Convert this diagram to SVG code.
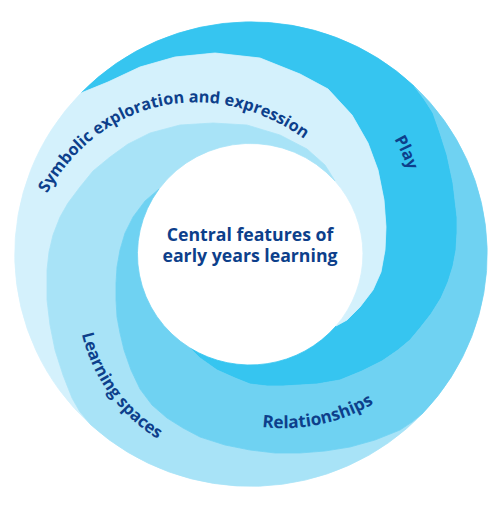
<svg xmlns="http://www.w3.org/2000/svg" width="500" height="511" viewBox="0 0 500 511">
<style>
.arm{stroke-width:0.8;stroke-linejoin:round}
.play{fill:#36c5f0;stroke:#36c5f0}
.sym{fill:#d4f1fc;stroke:#d4f1fc}
.learn{fill:#a8e3f7;stroke:#a8e3f7}
.rel{fill:#6fd2f2;stroke:#6fd2f2}
.lbl{font-family:"Open Sans","Noto Sans","Liberation Sans",sans-serif;font-weight:700;fill:#0d3f8b}
.arc{font-size:16.3px}
.big{font-size:17.2px}
.ctr{font-size:17.7px}
</style>
<defs>
<path id="tp-sym" d="M48,192 C103,97 213,75 303,138"/>
<path id="tp-play" d="M381.5,119.9 A170,170 0 0 1 413.8,192.4"/>
<path id="tp-learn" d="M81,330 A170,170 0 0 0 161,441"/>
<path id="tp-rel" d="M252.6,425.5 A177.7,177.7 0 0 0 381.8,398.5"/>
</defs>
<rect width="500" height="511" fill="#ffffff"/>
<g id="node-play">
<path class="arm play" d="M81,93 A236,232 0 0 1 414,86 L424,99 433,113 440,133 447,155 453,183 455,200 457,217 457,233 456,250 453,266 448,282 441,298 431,314 420,328 410,340 398,350 382,361 362,371 340,380 317,384 300,385 283,386 267,386 250,384 235,378 217,370 200,358 190,348 A113,111 0 0 0 336,326 L347,320 360,307 373,290 381,272 385,250 386,227 384,200 378,170 368,143 352,115 328,89 300,74 260,58 215,53 175,57 140,67 108,82 Z"/>
<text class="lbl arc"><textPath href="#tp-play" startOffset="50%" text-anchor="middle">Play</textPath></text>
</g>
<g id="node-symbolic">
<path class="arm sym" d="M91,425 A236,232 0 0 1 81,93 L108,82 140,67 175,57 215,53 260,58 300,74 328,89 352,115 368,143 378,170 384,200 386,227 385,250 381,272 373,290 360,307 347,320 336,326 A113,111 0 0 0 335,181 L325,165 307,149 280,135 247,125 213,123 180,125 150,133 128,144 110,157 93,171 80,187 68,203 60,217 53,235 49,252 47,270 47,300 50,325 55,350 63,375 72,398 80,412 Z"/>
<text class="lbl arc"><textPath href="#tp-sym" startOffset="50%" text-anchor="middle">Symbolic exploration and expression</textPath></text>
</g>
<g id="node-learning">
<path class="arm learn" d="M423,413 A236,232 0 0 1 91,425 L80,412 72,398 63,375 55,350 50,325 47,300 47,270 49,252 53,235 60,217 68,203 80,187 93,171 110,157 128,144 150,133 180,125 213,123 247,125 280,135 307,149 325,165 335,181 A113,111 0 0 0 159,189 L145,201 133,217 125,233 120,250 117,267 116,283 116,300 117,317 120,333 124,350 131,370 140,389 152,405 167,418 183,428 200,437 225,445 250,450 275,453 300,453 325,451 350,447 375,440 400,430 412,422 Z"/>
<text class="lbl arc" style="font-size:16.6px"><textPath href="#tp-learn" startOffset="50%" text-anchor="middle">Learning spaces</textPath></text>
</g>
<g id="node-relationships">
<path class="arm rel" d="M414,86 A236,232 0 0 1 423,413 L412,422 400,430 375,440 350,447 325,451 300,453 275,453 250,450 225,445 200,437 183,428 167,418 152,405 140,389 131,370 124,350 120,333 117,317 116,300 116,283 117,267 120,250 125,233 133,217 145,201 159,189 A113,111 0 0 0 190,348 L200,358 217,370 235,378 250,384 267,386 283,386 300,385 317,384 340,380 362,371 382,361 398,350 410,340 420,328 431,314 441,298 448,282 453,266 456,250 457,233 457,217 455,200 453,183 447,155 440,133 433,113 424,99 Z"/>
<text class="lbl big"><textPath href="#tp-rel" startOffset="50%" text-anchor="middle">Relationships</textPath></text>
</g>
<g id="node-center">
<text class="lbl ctr" x="250" y="240.7" text-anchor="middle">Central features of</text>
<text class="lbl ctr" x="250" y="262.3" text-anchor="middle">early years learning</text>
</g>
<g id="connectors"/>
</svg>
